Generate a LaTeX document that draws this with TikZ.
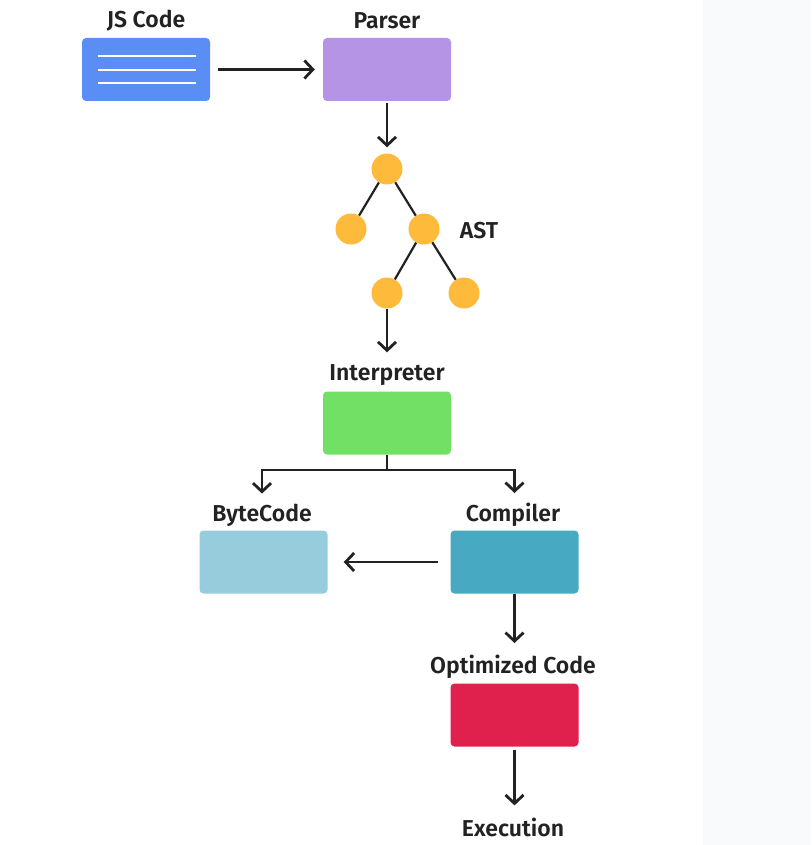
\documentclass[tikz,border=0pt]{standalone}
\usepackage{fontspec}
\setmainfont{Fira Sans}[BoldFont={Fira Sans SemiBold}]
\usetikzlibrary{arrows.meta}
\definecolor{jsblue}{HTML}{5B8EF5}
\definecolor{parserpurple}{HTML}{B594E6}
\definecolor{interpgreen}{HTML}{72E065}
\definecolor{bytelight}{HTML}{96CCDB}
\definecolor{compteal}{HTML}{47A9C2}
\definecolor{optred}{HTML}{E0214E}
\definecolor{astyellow}{HTML}{FDBA3B}
\definecolor{linedark}{HTML}{222222}
\definecolor{sidebg}{HTML}{F9FAFB}
\tikzset{
  box/.style={rectangle, rounded corners=4pt, minimum width=128pt, minimum height=63pt, inner sep=0pt},
  lbl/.style={font=\fontsize{23}{27}\selectfont\bfseries, text=linedark, inner sep=0pt},
  arr/.style={draw=linedark, line width=2.8pt, -{Straight Barb[length=8.5pt,width=18pt,line width=2.8pt]}},
  link/.style={draw=linedark, line width=2.8pt},
  treeedge/.style={draw=linedark, line width=2.2pt},
  astnode/.style={circle, fill=astyellow, minimum size=31pt, inner sep=0pt},
}
\begin{document}
\begin{tikzpicture}[x=1pt,y=-1pt]
\useasboundingbox (0,0) rectangle (811,845);
\fill[white] (0,0) rectangle (811,845);
\fill[sidebg] (703,0) rectangle (811,845);
% boxes
\node[box, fill=jsblue] (js) at (146,69.5) {};
\node[box, fill=parserpurple] (parser) at (387,69.5) {};
\node[box, fill=interpgreen] (interp) at (387,423) {};
\node[box, fill=bytelight] (byte) at (263.5,562) {};
\node[box, fill=compteal] (comp) at (514.5,562) {};
\node[box, fill=optred] (opt) at (514.5,715) {};
% code lines
\foreach \yy in {56,70,83}
  \draw[white, line width=1.8pt] ([xshift=16pt]js.west |- 0,\yy) -- ([xshift=-14pt]js.east |- 0,\yy);
% labels
\node[lbl] (ljs) at (146,21) {JS Code};
\node[lbl] (lparser) at (387,21) {Parser};
\node[lbl] (linterp) at (387,375) {Interpreter};
\node[lbl] (lbyte) at (262,515) {ByteCode};
\node[lbl] (lcomp) at (513,515) {Compiler};
\node[lbl] (lopt) at (513,667) {Optimized Code};
\node[lbl] (lexec) at (513,827) {Execution};
% AST
\node[astnode] (a1) at (387,169) {};
\node[astnode] (a2) at (351,229) {};
\node[astnode] (a3) at (424,229) {};
\node[astnode] (a4) at (387,293) {};
\node[astnode] (a5) at (464,293) {};
\node[lbl] (last) at (479,231) {AST};
\draw[treeedge] (a1) -- (a2);
\draw[treeedge] (a1) -- (a3);
\draw[treeedge] (a3) -- (a4);
\draw[treeedge] (a3) -- (a5);
% arrows
\draw[arr] ([xshift=8pt]js.east) -- ([xshift=-8pt]parser.west);
\draw[arr] ([yshift=-2pt]parser.south) -- ([yshift=6pt]a1.north);
\draw[arr] (a4.south) -- ([yshift=12pt]linterp.north);
\coordinate (split) at (387,470);
\draw[link] (interp.south) -- (split);
\draw[arr] (split) -| ([yshift=10pt]lbyte.north);
\draw[arr] (split) -| ([yshift=10pt]lcomp.north -| comp.south);
\draw[arr] ([xshift=-12pt]comp.west) -- ([xshift=16pt]byte.east);
\draw[arr] (comp.south) -- ([yshift=12pt]lopt.north -| comp.south);
\draw[arr] ([yshift=-3pt]opt.south) -- ([yshift=12pt]lexec.north -| opt.south);
\end{tikzpicture}
\end{document}
